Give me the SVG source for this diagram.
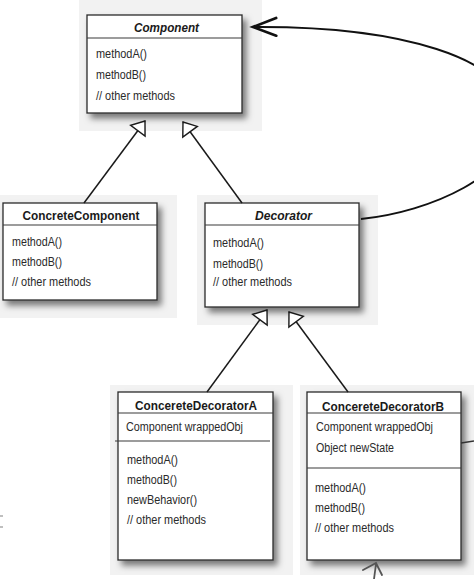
<svg xmlns="http://www.w3.org/2000/svg" width="474" height="579" viewBox="0 0 474 579">
<style>
.panel{fill:#f2f2f2}
.box{fill:#fff;stroke:#2a2a2a;stroke-width:1.3;filter:url(#sh)}
.div{stroke:#3a3a3a;stroke-width:1.1}
.t{font-family:"Liberation Sans",Arial,sans-serif;font-size:13.5px;font-weight:bold;fill:#1a1a1a;text-anchor:middle}
.ti{font-style:italic}
.b{font-family:"Liberation Sans",Arial,sans-serif;font-size:12.5px;fill:#2a2a2a}
.inh{fill:none;stroke:#1a1a1a;stroke-width:1.5;marker-end:url(#tri)}
.cur{fill:none;stroke:#111;stroke-width:2}
</style>
<defs>
<filter id="sh" x="-10%" y="-10%" width="130%" height="130%">
<feDropShadow dx="4" dy="5" stdDeviation="3.2" flood-color="#000" flood-opacity="0.5"/>
</filter>
<marker id="tri" markerUnits="userSpaceOnUse" orient="auto" refX="0" refY="0" markerWidth="30" markerHeight="30" viewBox="-15 -15 30 30" overflow="visible">
<path d="M0,0 L-12,-9 L-12,9 Z" fill="#fff" stroke="#1a1a1a" stroke-width="1.4" stroke-linejoin="miter"/>
</marker>
<marker id="open" markerUnits="userSpaceOnUse" orient="auto-start-reverse" refX="0" refY="0" markerWidth="30" markerHeight="30" viewBox="-20 -10 22 20" overflow="visible">
<path d="M-17,-6.5 L0,0 L-17,6.5" fill="none" stroke="#111" stroke-width="2" stroke-linecap="round" stroke-linejoin="miter"/>
</marker>
</defs>
<rect width="474" height="579" fill="#fff"/>

<g id="component">
<rect class="panel" x="79" y="0" width="183" height="131"/>
<rect class="box" x="87" y="15" width="155" height="98"/>
<line class="div" x1="87" y1="38" x2="242" y2="38"/>
<text class="t ti" x="166.5" y="31.5" textLength="65" lengthAdjust="spacingAndGlyphs">Component</text>
<text class="b" x="96" y="58" textLength="51" lengthAdjust="spacingAndGlyphs">methodA()</text>
<text class="b" x="96" y="78.5" textLength="50" lengthAdjust="spacingAndGlyphs">methodB()</text>
<text class="b" x="96" y="100" textLength="79" lengthAdjust="spacingAndGlyphs">// other methods</text>
</g>

<g id="concreteComponent">
<rect class="panel" x="0" y="195" width="177" height="123"/>
<rect class="box" x="3" y="203" width="154" height="97"/>
<line class="div" x1="3" y1="225" x2="157" y2="225"/>
<text class="t" x="81" y="220" textLength="117" lengthAdjust="spacingAndGlyphs">ConcreteComponent</text>
<text class="b" x="12" y="246" textLength="50" lengthAdjust="spacingAndGlyphs">methodA()</text>
<text class="b" x="12" y="266" textLength="50" lengthAdjust="spacingAndGlyphs">methodB()</text>
<text class="b" x="12" y="285.5" textLength="79" lengthAdjust="spacingAndGlyphs">// other methods</text>
</g>

<g id="decorator">
<rect class="panel" x="197" y="195" width="181" height="130"/>
<rect class="box" x="205" y="203" width="154" height="104"/>
<line class="div" x1="205" y1="225" x2="359" y2="225"/>
<text class="t ti" x="283.5" y="220" textLength="57" lengthAdjust="spacingAndGlyphs">Decorator</text>
<text class="b" x="213" y="247" textLength="51" lengthAdjust="spacingAndGlyphs">methodA()</text>
<text class="b" x="213" y="267.5" textLength="50" lengthAdjust="spacingAndGlyphs">methodB()</text>
<text class="b" x="213" y="286" textLength="79" lengthAdjust="spacingAndGlyphs">// other methods</text>
</g>

<g id="concreteDecoratorA">
<rect class="panel" x="110" y="385" width="183" height="190"/>
<rect class="box" x="118" y="392" width="155" height="168"/>
<line class="div" x1="118" y1="413" x2="273" y2="413"/>
<line class="div" x1="115" y1="441" x2="270" y2="441"/>
<text class="t" x="196" y="410" textLength="122" lengthAdjust="spacingAndGlyphs">ConcereteDecoratorA</text>
<text class="b" x="126" y="431" textLength="117" lengthAdjust="spacingAndGlyphs">Component wrappedObj</text>
<text class="b" x="127" y="464" textLength="51" lengthAdjust="spacingAndGlyphs">methodA()</text>
<text class="b" x="127" y="483.5" textLength="50" lengthAdjust="spacingAndGlyphs">methodB()</text>
<text class="b" x="127" y="503.5" textLength="70" lengthAdjust="spacingAndGlyphs">newBehavior()</text>
<text class="b" x="127" y="523.5" textLength="79" lengthAdjust="spacingAndGlyphs">// other methods</text>
</g>

<g id="concreteDecoratorB">
<rect class="panel" x="300" y="385" width="174" height="190"/>
<rect class="box" x="307" y="392" width="154" height="168"/>
<line class="div" x1="307" y1="413" x2="461" y2="413"/>
<line class="div" x1="307" y1="468" x2="461" y2="468"/>
<text class="t" x="383" y="411" textLength="122" lengthAdjust="spacingAndGlyphs">ConcereteDecoratorB</text>
<text class="b" x="316" y="430.5" textLength="117" lengthAdjust="spacingAndGlyphs">Component wrappedObj</text>
<text class="b" x="316" y="452" textLength="78" lengthAdjust="spacingAndGlyphs">Object newState</text>
<text class="b" x="315" y="491.5" textLength="51" lengthAdjust="spacingAndGlyphs">methodA()</text>
<text class="b" x="315" y="511.5" textLength="50" lengthAdjust="spacingAndGlyphs">methodB()</text>
<text class="b" x="315" y="531.5" textLength="79" lengthAdjust="spacingAndGlyphs">// other methods</text>
</g>

<g id="connectors">
<line class="inh" x1="84" y1="203" x2="145" y2="121"/>
<line class="inh" x1="242" y1="203" x2="183" y2="122"/>
<line class="inh" x1="207" y1="392" x2="267" y2="310"/>
<line class="inh" x1="348" y1="392" x2="289" y2="312"/>
<path class="cur" d="M253,27 C393,26 515,55 515,122 C515,175 430,212 361,219" marker-start="url(#open)"/>
<line x1="461" y1="443" x2="474" y2="441" stroke="#333" stroke-width="1.4"/>
<path d="M374,579 L376,564 M363,570 L376,563 L382,575" fill="none" stroke="#555" stroke-width="1.8" stroke-linecap="round"/>
<path d="M0,516 L3,516 M0,527 L3,527" fill="none" stroke="#aaa" stroke-width="1.6"/>
</g>
</svg>
